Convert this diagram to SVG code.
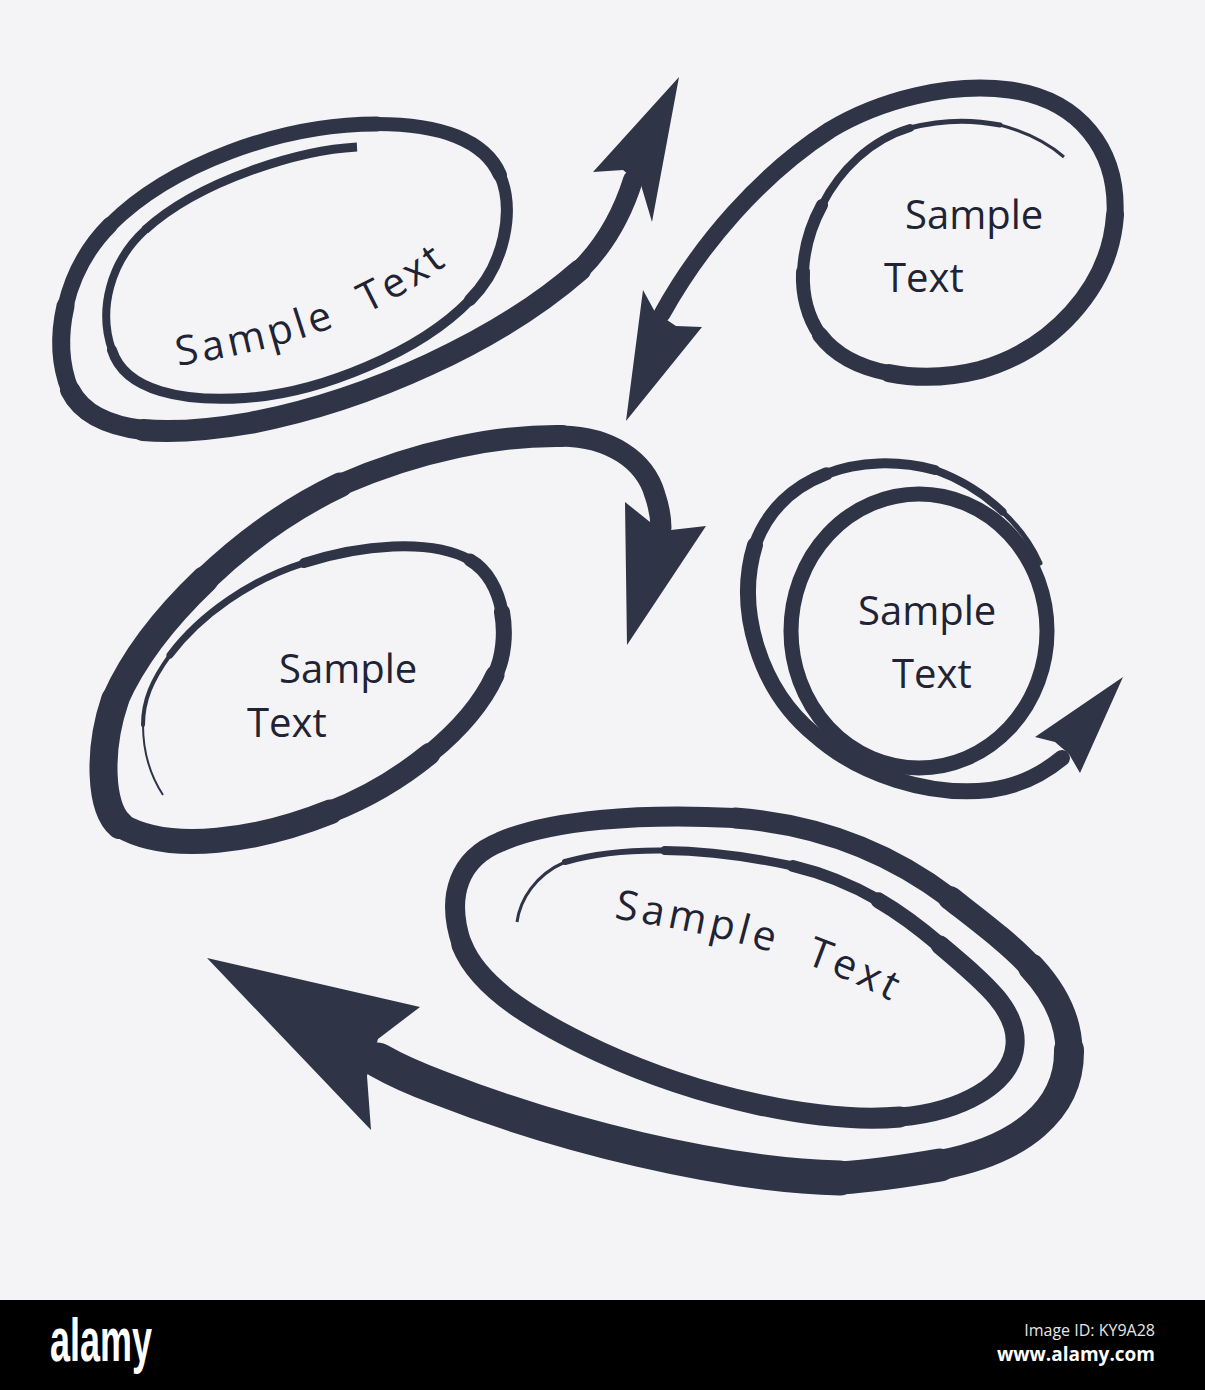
<svg xmlns="http://www.w3.org/2000/svg" width="1205" height="1390" viewBox="0 0 1205 1390">
<style>
.s{fill:none;stroke:#2f3447;stroke-linecap:round;stroke-linejoin:round}
.b{stroke-linecap:butt}
.h{fill:#2f3447}
.t{font-family:"Open Sans","Noto Sans","Liberation Sans",sans-serif;font-size:40px;fill:#1f2334}
.tp{font-family:"Open Sans","Noto Sans","Liberation Sans",sans-serif;font-size:41px;fill:#1f2334;letter-spacing:4px;word-spacing:16px}
</style>
<defs>
<path id="p1" d="M178,366 C270,350 372,330 470,246"/>
<path id="p5" d="M614,918 C700,933 800,948 918,1016"/>
</defs>
<rect width="1205" height="1390" fill="#f4f4f6"/>

<g id="spiral1">
<path class="s b" stroke-width="9" d="M357,147 C300,150 200,180 145,230"/>
<path class="s" stroke-width="8" d="M145,230 C110,262 98,310 112,350"/>
<path class="s" stroke-width="10" d="M112,350 C125,392 185,402 245,398 C320,393 420,352 470,300"/>
<path class="s" stroke-width="12" d="M470,300 C505,265 515,210 500,175"/>
<path class="s" stroke-width="14" d="M500,175 C485,140 440,124 377,124"/>
<path class="s" stroke-width="15" d="M377,124 C280,124 170,165 110,225"/>
<path class="s" stroke-width="16" d="M110,225 C87.5,247.5 72.5,276.3 65.6,305.6"/>
<path class="s" stroke-width="18" d="M65.6,305.6 C58.8,335 60,365 70,390"/>
<path class="s" stroke-width="20" d="M70,390 C82.5,415 110,426 143,430"/>
<path class="s" stroke-width="22" d="M143,430 C176,433 215,429 250,423 C370,400 500,340 580,270"/>
<path class="s" stroke-width="20" d="M580,270 C605,245 622,215 633,180"/>
<polygon class="h" points="679,77 652,222 641,185 623,170 593,172"/>
<text class="tp"><textPath href="#p1">Sample Text</textPath></text>
</g>

<g id="spiral2">
<path class="s b" stroke-width="3" d="M1064,157 C1050,145 1030,133 1000,125"/>
<path class="s" stroke-width="5" d="M1000,125 C970,119 940,120 910,128"/>
<path class="s" stroke-width="8" d="M910,128 C870,140 840,170 822,205"/>
<path class="s" stroke-width="12" d="M822,205 C811,225 804,250 803,272"/>
<path class="s" stroke-width="14" d="M803,272 C802,295 808,318 820,335"/>
<path class="s" stroke-width="16" d="M820,335 C835,355 860,367.5 888.8,373.1"/>
<path class="s" stroke-width="18" d="M888.8,373.1 C917.5,378.8 950,377.5 980,370 C1050,350 1110,290 1115,215"/>
<path class="s" stroke-width="17" d="M1115,215 C1118,150 1080,100 1010,90 C950,82 880,100 830,130 C760,175 700,245 662,314"/>
<polygon class="h" points="626,421 643,290 655,312 676,326 702,327"/>
<text class="t" x="905" y="229">Sample</text>
<text class="t" x="884" y="292">Text</text>
</g>

<g id="spiral3">
<path class="s b" stroke-width="2" d="M163,795 C150,775 143,750 143,725"/>
<path class="s" stroke-width="4" d="M143,725 C143,700 152,680 170,655"/>
<path class="s" stroke-width="7" d="M170,655 C200,615 250,580 304,563"/>
<path class="s" stroke-width="10" d="M304,563 C360,545 430,538 470,560"/>
<path class="s" stroke-width="13" d="M470,560 C487.5,570 498,590 502,612"/>
<path class="s" stroke-width="16" d="M502,612 C506,633.8 503.5,657.5 495,675"/>
<path class="s" stroke-width="19" d="M495,675 C482.5,702.5 458.8,730 429.4,754"/>
<path class="s" stroke-width="22" d="M429.4,754 C400,778 365,798.5 330,812"/>
<path class="s" stroke-width="25" d="M330,812 C260,840 170,855 120,825"/>
<path class="s" stroke-width="28" d="M120,825 C100,808 98,750 115,700"/>
<path class="s" stroke-width="27" d="M115,700 C132.5,660 165,617.5 205,579.4"/>
<path class="s" stroke-width="25" d="M205,579.4 C245,541.3 292.5,507.5 340,485"/>
<path class="s" stroke-width="22" d="M340,485 C420,450 500,435 562,436"/>
<path class="s" stroke-width="21" d="M562,436 C610,437 645,460 655,495 C660,510 661,520 661,528"/>
<polygon class="h" points="627,645 625,502 650,522 671,530 706,526"/>
<text class="t" x="279" y="683">Sample</text>
<text class="t" x="247" y="737">Text</text>
</g>

<g id="circle4">
<ellipse class="s" stroke-width="15" cx="919" cy="631" rx="128" ry="137"/>
<path class="s" stroke-width="5" d="M1040,563 C1032.5,546.5 1020,528 1002.5,511.6"/>
<path class="s" stroke-width="8" d="M1002.5,511.6 C985,495 962.5,480 935,470"/>
<path class="s" stroke-width="10" d="M935,470 C897.5,460 858.8,461.3 826.3,473.8"/>
<path class="s" stroke-width="13" d="M826.3,473.8 C793.8,486.3 767.5,510 755,545"/>
<path class="s" stroke-width="16" d="M755,545 C735,610 760,690 815,735 C860,775 930,797 990,790 C1020,786 1045,772 1062,758"/>
<polygon class="h" points="1123,677 1080,773 1069,754 1055,742 1035,737"/>
<text class="t" x="858" y="625">Sample</text>
<text class="t" x="892" y="688">Text</text>
</g>

<g id="spiral5">
<path class="s b" stroke-width="3" d="M517,922 C520,900 535,875 565,862"/>
<path class="s" stroke-width="6" d="M565,862 C592.5,854 626.3,850 664.8,850.5"/>
<path class="s" stroke-width="9" d="M664.8,850.5 C703.3,851 746.5,856 793,866"/>
<path class="s" stroke-width="12" d="M793,866 C826.5,874 854.5,886.3 878.5,900.3"/>
<path class="s" stroke-width="16" d="M878.5,900.3 C902.5,914.3 922.5,930 940,945"/>
<path class="s" stroke-width="19" d="M940,945 C985,983 1018,1010 1015,1045 C1012,1085 960,1112 900,1117"/>
<path class="s" stroke-width="21" d="M900,1117 C820,1124 700,1098 600,1052 C540,1024 480,990 462,945"/>
<path class="s" stroke-width="20" d="M462,945 C445,895 460,858 500,842 C550,820 640,813 735,818"/>
<path class="s" stroke-width="21" d="M735,818 C830,825 900,860 950,898"/>
<path class="s" stroke-width="24" d="M950,898 C980,921.5 1009.5,943.3 1031.6,967.3"/>
<path class="s" stroke-width="27" d="M1031.6,967.3 C1053.8,991.3 1068.5,1017.5 1069,1050"/>
<path class="s" stroke-width="30" d="M1069,1050 C1070,1110 1020,1150 940,1165"/>
<path class="s" stroke-width="33" d="M940,1165 C900,1172 870,1176 840,1178"/>
<path class="s" stroke-width="35" d="M840,1178 C720,1175 560,1135 440,1088 C410,1077 392,1068 378,1060"/>
<polygon class="h" points="207,958 420,1007 378,1039 367,1076 371,1130"/>
<text class="tp"><textPath href="#p5">Sample Text</textPath></text>
</g>

<g id="footer">
<rect x="0" y="1300" width="1205" height="90" fill="#000"/>
<text x="50" y="1361" font-family="Liberation Sans, sans-serif" font-weight="bold" font-size="62" fill="#fff" textLength="102" lengthAdjust="spacingAndGlyphs">alamy</text>
<text x="1155" y="1336" text-anchor="end" font-family="Open Sans, sans-serif" font-size="16" fill="#e6e6e6">Image ID: KY9A28</text>
<text x="1155" y="1361" text-anchor="end" font-family="Open Sans, sans-serif" font-weight="bold" font-size="19" fill="#fff">www.alamy.com</text>
</g>
</svg>
